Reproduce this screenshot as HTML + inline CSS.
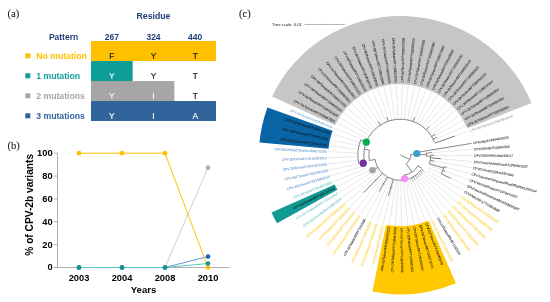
<!DOCTYPE html>
<html><head><meta charset="utf-8"><style>
html,body{margin:0;padding:0;background:#fff;width:550px;height:302px;overflow:hidden}
svg{display:block;will-change:transform}
</style></head><body>
<svg width="550" height="302" viewBox="0 0 550 302">
<rect width="550" height="302" fill="#fff"/>
<text x="7.6" y="17" font-family="Liberation Serif, serif" font-size="10.5" fill="#1a1a1a" stroke="#1a1a1a" stroke-width="0.1">(a)</text>
<text x="153.5" y="19.4" text-anchor="middle" font-family="Liberation Sans, sans-serif" font-weight="bold" font-size="8.7" fill="#213E76">Residue</text>
<text x="78.2" y="39.5" text-anchor="end" font-family="Liberation Sans, sans-serif" font-weight="bold" font-size="8.5" fill="#213E76">Pattern</text>
<text x="111.83" y="39.5" text-anchor="middle" font-family="Liberation Sans, sans-serif" font-weight="bold" font-size="8.5" fill="#213E76">267</text>
<text x="153.50" y="39.5" text-anchor="middle" font-family="Liberation Sans, sans-serif" font-weight="bold" font-size="8.5" fill="#213E76">324</text>
<text x="195.17" y="39.5" text-anchor="middle" font-family="Liberation Sans, sans-serif" font-weight="bold" font-size="8.5" fill="#213E76">440</text>
<rect x="91" y="41" width="125" height="20" fill="#FFC000"/>
<rect x="91" y="61" width="41.67" height="20" fill="#0E9E98"/>
<rect x="91" y="81" width="83.33" height="20" fill="#A6A6A6"/>
<rect x="91" y="101" width="125" height="20" fill="#30649B"/>
<text x="111.83" y="59.4" text-anchor="middle" font-family="Liberation Sans, sans-serif" font-size="8.3" fill="#222" stroke="#222" stroke-width="0.2">F</text>
<text x="153.50" y="59.4" text-anchor="middle" font-family="Liberation Sans, sans-serif" font-size="8.3" fill="#222" stroke="#222" stroke-width="0.2">Y</text>
<text x="195.17" y="59.4" text-anchor="middle" font-family="Liberation Sans, sans-serif" font-size="8.3" fill="#222" stroke="#222" stroke-width="0.2">T</text>
<text x="111.83" y="79.4" text-anchor="middle" font-family="Liberation Sans, sans-serif" font-size="8.3" fill="#f4f4f4" stroke="#f4f4f4" stroke-width="0.2">Y</text>
<text x="153.50" y="79.4" text-anchor="middle" font-family="Liberation Sans, sans-serif" font-size="8.3" fill="#222" stroke="#222" stroke-width="0.2">Y</text>
<text x="195.17" y="79.4" text-anchor="middle" font-family="Liberation Sans, sans-serif" font-size="8.3" fill="#222" stroke="#222" stroke-width="0.2">T</text>
<text x="111.83" y="99.4" text-anchor="middle" font-family="Liberation Sans, sans-serif" font-size="8.3" fill="#f4f4f4" stroke="#f4f4f4" stroke-width="0.2">Y</text>
<text x="153.50" y="99.4" text-anchor="middle" font-family="Liberation Sans, sans-serif" font-size="8.3" fill="#f4f4f4" stroke="#f4f4f4" stroke-width="0.2">I</text>
<text x="195.17" y="99.4" text-anchor="middle" font-family="Liberation Sans, sans-serif" font-size="8.3" fill="#222" stroke="#222" stroke-width="0.2">T</text>
<text x="111.83" y="119.4" text-anchor="middle" font-family="Liberation Sans, sans-serif" font-size="8.3" fill="#f4f4f4" stroke="#f4f4f4" stroke-width="0.2">Y</text>
<text x="153.50" y="119.4" text-anchor="middle" font-family="Liberation Sans, sans-serif" font-size="8.3" fill="#f4f4f4" stroke="#f4f4f4" stroke-width="0.2">I</text>
<text x="195.17" y="119.4" text-anchor="middle" font-family="Liberation Sans, sans-serif" font-size="8.3" fill="#f4f4f4" stroke="#f4f4f4" stroke-width="0.2">A</text>
<rect x="25.3" y="53.3" width="5" height="5" fill="#FFC000"/>
<text x="36.2" y="58.9" font-family="Liberation Sans, sans-serif" font-weight="bold" font-size="8.7" fill="#FFC000">No mutation</text>
<rect x="25.3" y="73.3" width="5" height="5" fill="#0E9E98"/>
<text x="36.2" y="78.9" font-family="Liberation Sans, sans-serif" font-weight="bold" font-size="8.7" fill="#0E9E98">1 mutation</text>
<rect x="25.3" y="93.3" width="5" height="5" fill="#A6A6A6"/>
<text x="36.2" y="98.9" font-family="Liberation Sans, sans-serif" font-weight="bold" font-size="8.7" fill="#A6A6A6">2 mutations</text>
<rect x="25.3" y="113.3" width="5" height="5" fill="#30649B"/>
<text x="36.2" y="118.9" font-family="Liberation Sans, sans-serif" font-weight="bold" font-size="8.7" fill="#30649B">3 mutations</text>
<text x="7.6" y="148.8" font-family="Liberation Serif, serif" font-size="10.5" fill="#1a1a1a" stroke="#1a1a1a" stroke-width="0.1">(b)</text>
<line x1="57.5" y1="153.2" x2="57.5" y2="267.5" stroke="#9a9a9a" stroke-width="0.8"/>
<line x1="54" y1="267.5" x2="229.6" y2="267.5" stroke="#9a9a9a" stroke-width="0.8"/>
<line x1="54" y1="267.50" x2="57.5" y2="267.50" stroke="#9a9a9a" stroke-width="0.8"/>
<text x="52.6" y="270.40" text-anchor="end" font-family="Liberation Sans, sans-serif" font-weight="bold" font-size="9.3" fill="#000">0</text>
<line x1="54" y1="244.64" x2="57.5" y2="244.64" stroke="#9a9a9a" stroke-width="0.8"/>
<text x="52.6" y="247.54" text-anchor="end" font-family="Liberation Sans, sans-serif" font-weight="bold" font-size="9.3" fill="#000">20</text>
<line x1="54" y1="221.78" x2="57.5" y2="221.78" stroke="#9a9a9a" stroke-width="0.8"/>
<text x="52.6" y="224.68" text-anchor="end" font-family="Liberation Sans, sans-serif" font-weight="bold" font-size="9.3" fill="#000">40</text>
<line x1="54" y1="198.92" x2="57.5" y2="198.92" stroke="#9a9a9a" stroke-width="0.8"/>
<text x="52.6" y="201.82" text-anchor="end" font-family="Liberation Sans, sans-serif" font-weight="bold" font-size="9.3" fill="#000">60</text>
<line x1="54" y1="176.06" x2="57.5" y2="176.06" stroke="#9a9a9a" stroke-width="0.8"/>
<text x="52.6" y="178.96" text-anchor="end" font-family="Liberation Sans, sans-serif" font-weight="bold" font-size="9.3" fill="#000">80</text>
<line x1="54" y1="153.20" x2="57.5" y2="153.20" stroke="#9a9a9a" stroke-width="0.8"/>
<text x="52.6" y="156.10" text-anchor="end" font-family="Liberation Sans, sans-serif" font-weight="bold" font-size="9.3" fill="#000">100</text>
<text x="79" y="281.2" text-anchor="middle" font-family="Liberation Sans, sans-serif" font-weight="bold" font-size="9.3" fill="#000">2003</text>
<text x="122" y="281.2" text-anchor="middle" font-family="Liberation Sans, sans-serif" font-weight="bold" font-size="9.3" fill="#000">2004</text>
<text x="165" y="281.2" text-anchor="middle" font-family="Liberation Sans, sans-serif" font-weight="bold" font-size="9.3" fill="#000">2008</text>
<text x="208" y="281.2" text-anchor="middle" font-family="Liberation Sans, sans-serif" font-weight="bold" font-size="9.3" fill="#000">2010</text>
<text x="143.5" y="292.8" text-anchor="middle" font-family="Liberation Sans, sans-serif" font-weight="bold" font-size="9.6" fill="#000">Years</text>
<text transform="translate(33.2 204.8) rotate(-90)" text-anchor="middle" font-family="Liberation Sans, sans-serif" font-weight="bold" font-size="10.2" fill="#000">% of CPV-2b variants</text>
<polyline points="79,267.50 122,267.50 165,267.50 208,167.72" fill="none" stroke="#CFCFCF" stroke-width="1"/>
<polyline points="79,267.50 122,267.50 165,267.50 208,256.53" fill="none" stroke="#5B9BD5" stroke-width="1"/>
<polyline points="79,153.20 122,153.20 165,153.20 208,267.50" fill="none" stroke="#FFC000" stroke-width="1"/>
<polyline points="79,267.50 122,267.50 165,267.50 208,263.50" fill="none" stroke="#5CC4BF" stroke-width="1"/>
<circle cx="79" cy="267.50" r="2.35" fill="#B0B0B0"/>
<circle cx="122" cy="267.50" r="2.35" fill="#B0B0B0"/>
<circle cx="165" cy="267.50" r="2.35" fill="#B0B0B0"/>
<circle cx="208" cy="167.72" r="2.35" fill="#B0B0B0"/>
<circle cx="79" cy="267.50" r="2.35" fill="#1565C8"/>
<circle cx="122" cy="267.50" r="2.35" fill="#1565C8"/>
<circle cx="165" cy="267.50" r="2.35" fill="#1565C8"/>
<circle cx="208" cy="256.53" r="2.35" fill="#1565C8"/>
<circle cx="79" cy="153.20" r="2.35" fill="#FFC000"/>
<circle cx="122" cy="153.20" r="2.35" fill="#FFC000"/>
<circle cx="165" cy="153.20" r="2.35" fill="#FFC000"/>
<circle cx="208" cy="267.50" r="2.35" fill="#FFC000"/>
<circle cx="79" cy="267.50" r="2.35" fill="#14968F"/>
<circle cx="122" cy="267.50" r="2.35" fill="#14968F"/>
<circle cx="165" cy="267.50" r="2.35" fill="#14968F"/>
<circle cx="208" cy="263.50" r="2.35" fill="#14968F"/>
<text x="239" y="17" font-family="Liberation Serif, serif" font-size="10.5" fill="#1a1a1a" stroke="#1a1a1a" stroke-width="0.1">(c)</text>
<text x="272" y="26" font-family="Liberation Sans, sans-serif" font-size="4.2" fill="#222">Tree scale: 0.01</text>
<line x1="305" y1="24.5" x2="344.5" y2="24.5" stroke="#888" stroke-width="0.6"/>
<line x1="305" y1="23.7" x2="305" y2="25.1" stroke="#888" stroke-width="0.4"/>
<line x1="325" y1="23.7" x2="325" y2="25.1" stroke="#888" stroke-width="0.4"/>
<line x1="345" y1="23.7" x2="345" y2="25.1" stroke="#888" stroke-width="0.4"/>
<path d="M272.11,96.41 A141.43,139.20 0 0 1 531.51,103.03 L467.25,128.54 A72.14,71.00 0 0 0 334.94,125.17 Z" fill="#C6C6C6"/>
<path d="M259.51,142.44 A141.43,139.20 0 0 1 267.46,107.47 L332.57,130.81 A72.14,71.00 0 0 0 328.51,148.64 Z" fill="#0864A4"/>
<path d="M277.00,223.20 A141.43,139.20 0 0 1 271.51,212.51 L334.64,184.38 A72.14,71.00 0 0 0 337.44,189.83 Z" fill="#0F9A94"/>
<path d="M455.82,283.15 A141.43,139.20 0 0 1 372.36,291.55 L386.07,224.70 A72.14,71.00 0 0 0 428.64,220.41 Z" fill="#FFC800"/>
<line x1="471.50" y1="143.38" x2="472.00" y2="143.30" stroke="#d2d2d2" stroke-width="0.5"/>
<line x1="430.73" y1="152.71" x2="472.76" y2="149.40" stroke="#d2d2d2" stroke-width="0.5"/>
<line x1="430.83" y1="155.29" x2="472.99" y2="155.55" stroke="#d2d2d2" stroke-width="0.5"/>
<line x1="430.70" y1="157.87" x2="472.68" y2="161.69" stroke="#d2d2d2" stroke-width="0.5"/>
<line x1="430.35" y1="160.42" x2="471.84" y2="167.78" stroke="#d2d2d2" stroke-width="0.5"/>
<line x1="429.77" y1="162.94" x2="470.47" y2="173.78" stroke="#d2d2d2" stroke-width="0.5"/>
<line x1="428.98" y1="165.40" x2="468.58" y2="179.65" stroke="#d2d2d2" stroke-width="0.5"/>
<line x1="427.97" y1="167.78" x2="466.18" y2="185.33" stroke="#d2d2d2" stroke-width="0.5"/>
<line x1="426.76" y1="170.07" x2="463.30" y2="190.78" stroke="#d2d2d2" stroke-width="0.5"/>
<line x1="421.44" y1="169.56" x2="459.95" y2="195.97" stroke="#d2d2d2" stroke-width="0.5"/>
<line x1="420.10" y1="171.29" x2="456.16" y2="200.86" stroke="#d2d2d2" stroke-width="0.5"/>
<line x1="418.61" y1="172.90" x2="451.96" y2="205.42" stroke="#d2d2d2" stroke-width="0.5"/>
<line x1="416.99" y1="174.38" x2="447.38" y2="209.59" stroke="#d2d2d2" stroke-width="0.5"/>
<line x1="415.25" y1="175.72" x2="442.45" y2="213.37" stroke="#d2d2d2" stroke-width="0.5"/>
<line x1="413.39" y1="176.90" x2="437.20" y2="216.72" stroke="#d2d2d2" stroke-width="0.5"/>
<line x1="411.44" y1="177.92" x2="431.69" y2="219.60" stroke="#d2d2d2" stroke-width="0.5"/>
<line x1="409.41" y1="178.78" x2="425.94" y2="222.02" stroke="#d2d2d2" stroke-width="0.5"/>
<line x1="407.30" y1="179.46" x2="420.00" y2="223.93" stroke="#d2d2d2" stroke-width="0.5"/>
<line x1="405.15" y1="179.95" x2="413.92" y2="225.34" stroke="#d2d2d2" stroke-width="0.5"/>
<line x1="402.96" y1="180.27" x2="407.74" y2="226.23" stroke="#d2d2d2" stroke-width="0.5"/>
<line x1="400.76" y1="180.40" x2="401.50" y2="226.59" stroke="#d2d2d2" stroke-width="0.5"/>
<line x1="398.55" y1="180.34" x2="395.26" y2="226.42" stroke="#d2d2d2" stroke-width="0.5"/>
<line x1="396.35" y1="180.09" x2="389.05" y2="225.73" stroke="#d2d2d2" stroke-width="0.5"/>
<line x1="394.18" y1="179.66" x2="382.92" y2="224.51" stroke="#d2d2d2" stroke-width="0.5"/>
<line x1="392.06" y1="179.05" x2="376.93" y2="222.78" stroke="#d2d2d2" stroke-width="0.5"/>
<line x1="390.00" y1="178.26" x2="371.11" y2="220.55" stroke="#d2d2d2" stroke-width="0.5"/>
<line x1="388.02" y1="177.30" x2="365.50" y2="217.83" stroke="#d2d2d2" stroke-width="0.5"/>
<line x1="386.13" y1="176.17" x2="360.15" y2="214.65" stroke="#d2d2d2" stroke-width="0.5"/>
<line x1="384.34" y1="174.89" x2="355.10" y2="211.03" stroke="#d2d2d2" stroke-width="0.5"/>
<line x1="382.67" y1="173.46" x2="350.38" y2="207.00" stroke="#d2d2d2" stroke-width="0.5"/>
<line x1="381.13" y1="171.90" x2="346.04" y2="202.58" stroke="#d2d2d2" stroke-width="0.5"/>
<line x1="379.74" y1="170.21" x2="342.09" y2="197.81" stroke="#d2d2d2" stroke-width="0.5"/>
<line x1="378.49" y1="168.41" x2="338.58" y2="192.73" stroke="#d2d2d2" stroke-width="0.5"/>
<line x1="377.41" y1="166.52" x2="335.52" y2="187.36" stroke="#d2d2d2" stroke-width="0.5"/>
<line x1="366.41" y1="168.52" x2="332.95" y2="181.76" stroke="#d2d2d2" stroke-width="0.5"/>
<line x1="365.37" y1="165.60" x2="330.87" y2="175.96" stroke="#d2d2d2" stroke-width="0.5"/>
<line x1="358.81" y1="163.82" x2="329.30" y2="170.01" stroke="#d2d2d2" stroke-width="0.5"/>
<line x1="358.21" y1="160.27" x2="328.26" y2="163.94" stroke="#d2d2d2" stroke-width="0.5"/>
<line x1="357.91" y1="156.69" x2="327.76" y2="157.81" stroke="#d2d2d2" stroke-width="0.5"/>
<line x1="357.93" y1="153.09" x2="327.79" y2="151.67" stroke="#d2d2d2" stroke-width="0.5"/>
<line x1="358.26" y1="149.51" x2="328.36" y2="145.54" stroke="#d2d2d2" stroke-width="0.5"/>
<line x1="358.91" y1="145.97" x2="329.46" y2="139.49" stroke="#d2d2d2" stroke-width="0.5"/>
<line x1="359.86" y1="142.50" x2="331.08" y2="133.55" stroke="#d2d2d2" stroke-width="0.5"/>
<line x1="366.55" y1="141.34" x2="333.22" y2="127.77" stroke="#d2d2d2" stroke-width="0.5"/>
<line x1="367.88" y1="138.53" x2="335.86" y2="122.19" stroke="#d2d2d2" stroke-width="0.5"/>
<line x1="369.44" y1="135.85" x2="338.97" y2="116.86" stroke="#d2d2d2" stroke-width="0.5"/>
<line x1="371.24" y1="133.30" x2="342.53" y2="111.81" stroke="#d2d2d2" stroke-width="0.5"/>
<line x1="373.25" y1="130.92" x2="346.53" y2="107.08" stroke="#d2d2d2" stroke-width="0.5"/>
<line x1="375.46" y1="128.72" x2="350.92" y2="102.71" stroke="#d2d2d2" stroke-width="0.5"/>
<line x1="377.86" y1="126.71" x2="355.68" y2="98.72" stroke="#d2d2d2" stroke-width="0.5"/>
<line x1="380.42" y1="124.92" x2="360.76" y2="95.15" stroke="#d2d2d2" stroke-width="0.5"/>
<line x1="383.13" y1="123.34" x2="366.14" y2="92.02" stroke="#d2d2d2" stroke-width="0.5"/>
<line x1="385.96" y1="122.00" x2="371.78" y2="89.36" stroke="#d2d2d2" stroke-width="0.5"/>
<line x1="388.91" y1="120.91" x2="377.62" y2="87.19" stroke="#d2d2d2" stroke-width="0.5"/>
<line x1="391.93" y1="120.07" x2="383.63" y2="85.52" stroke="#d2d2d2" stroke-width="0.5"/>
<line x1="395.02" y1="119.48" x2="389.77" y2="84.36" stroke="#d2d2d2" stroke-width="0.5"/>
<line x1="398.15" y1="119.17" x2="395.99" y2="83.73" stroke="#d2d2d2" stroke-width="0.5"/>
<line x1="401.30" y1="119.11" x2="402.23" y2="83.62" stroke="#d2d2d2" stroke-width="0.5"/>
<line x1="404.44" y1="119.33" x2="408.47" y2="84.05" stroke="#d2d2d2" stroke-width="0.5"/>
<line x1="407.55" y1="119.80" x2="414.64" y2="85.00" stroke="#d2d2d2" stroke-width="0.5"/>
<line x1="410.60" y1="120.54" x2="420.71" y2="86.47" stroke="#d2d2d2" stroke-width="0.5"/>
<line x1="413.58" y1="121.54" x2="426.62" y2="88.44" stroke="#d2d2d2" stroke-width="0.5"/>
<line x1="416.46" y1="122.78" x2="432.35" y2="90.91" stroke="#d2d2d2" stroke-width="0.5"/>
<line x1="419.22" y1="124.26" x2="437.83" y2="93.85" stroke="#d2d2d2" stroke-width="0.5"/>
<line x1="421.85" y1="125.97" x2="443.04" y2="97.25" stroke="#d2d2d2" stroke-width="0.5"/>
<line x1="424.31" y1="127.90" x2="447.93" y2="101.07" stroke="#d2d2d2" stroke-width="0.5"/>
<line x1="426.59" y1="130.03" x2="452.48" y2="105.30" stroke="#d2d2d2" stroke-width="0.5"/>
<line x1="428.69" y1="132.34" x2="456.63" y2="109.89" stroke="#d2d2d2" stroke-width="0.5"/>
<line x1="430.57" y1="134.82" x2="460.37" y2="114.82" stroke="#d2d2d2" stroke-width="0.5"/>
<line x1="432.23" y1="137.45" x2="463.66" y2="120.04" stroke="#d2d2d2" stroke-width="0.5"/>
<line x1="433.65" y1="140.21" x2="466.49" y2="125.53" stroke="#d2d2d2" stroke-width="0.5"/>
<line x1="434.83" y1="143.08" x2="468.83" y2="131.23" stroke="#d2d2d2" stroke-width="0.5"/>
<path d="M364.59,162.65 A36.58,36.00 0 0 1 434.40,141.96" fill="none" stroke="#555" stroke-width="0.7"/>
<path d="M358.76,163.58 A42.47,41.80 0 0 1 360.70,140.12" fill="none" stroke="#555" stroke-width="0.7"/>
<line x1="366.20" y1="142.20" x2="360.70" y2="140.12" stroke="#555" stroke-width="0.7"/>
<path d="M369.33,160.48 A31.50,31.00 0 0 1 369.29,149.98" fill="none" stroke="#555" stroke-width="0.7"/>
<line x1="369.29" y1="149.98" x2="364.28" y2="149.16" stroke="#555" stroke-width="0.7"/>
<line x1="375.04" y1="159.49" x2="369.33" y2="160.48" stroke="#555" stroke-width="0.7"/>
<path d="M421.41,169.61 A25.70,25.30 0 0 1 375.04,159.49" fill="none" stroke="#555" stroke-width="0.7"/>
<line x1="377.91" y1="167.44" x2="372.32" y2="170.52" stroke="#555" stroke-width="0.7"/>
<path d="M418.30,165.30 A20.73,20.40 0 0 1 403.95,175.19" fill="none" stroke="#555" stroke-width="0.7"/>
<line x1="403.95" y1="175.19" x2="404.81" y2="180.02" stroke="#555" stroke-width="0.7"/>
<line x1="417.93" y1="165.91" x2="422.15" y2="168.51" stroke="#555" stroke-width="0.7"/>
<path d="M410.79,154.38 A10.46,10.30 0 0 1 406.20,163.64" fill="none" stroke="#555" stroke-width="0.7"/>
<line x1="400.35" y1="155.10" x2="409.83" y2="159.45" stroke="#555" stroke-width="0.7"/>
<line x1="406.20" y1="163.64" x2="411.94" y2="172.01" stroke="#555" stroke-width="0.7"/>
<line x1="410.79" y1="154.38" x2="417.38" y2="153.93" stroke="#555" stroke-width="0.7"/>
<line x1="380.38" y1="124.94" x2="377.99" y2="121.34" stroke="#555" stroke-width="0.7"/>
<line x1="388.20" y1="121.14" x2="386.75" y2="117.09" stroke="#555" stroke-width="0.7"/>
<line x1="412.98" y1="121.31" x2="414.49" y2="117.28" stroke="#555" stroke-width="0.7"/>
<line x1="426.12" y1="129.56" x2="429.20" y2="126.50" stroke="#555" stroke-width="0.7"/>
<line x1="431.67" y1="136.50" x2="435.41" y2="134.28" stroke="#555" stroke-width="0.7"/>
<line x1="433.11" y1="139.09" x2="437.02" y2="137.18" stroke="#555" stroke-width="0.7"/>
<line x1="434.83" y1="143.08" x2="454.94" y2="136.07" stroke="#555" stroke-width="0.7"/>
<path d="M417.18,152.33 A17.07,16.80 0 0 1 417.42,154.81" fill="none" stroke="#555" stroke-width="0.7"/>
<line x1="417.18" y1="152.33" x2="471.50" y2="143.38" stroke="#555" stroke-width="0.7"/>
<line x1="417.42" y1="154.81" x2="426.46" y2="154.65" stroke="#555" stroke-width="0.7"/>
<path d="M426.38,153.05 A26.11,25.70 0 0 1 426.44,156.22" fill="none" stroke="#555" stroke-width="0.7"/>
<line x1="426.38" y1="153.05" x2="431.75" y2="152.63" stroke="#555" stroke-width="0.7"/>
<line x1="426.44" y1="156.22" x2="430.60" y2="156.40" stroke="#555" stroke-width="0.7"/>
<path d="M430.63,155.29 A30.28,29.80 0 0 1 429.30,163.81" fill="none" stroke="#555" stroke-width="0.7"/>
<line x1="430.63" y1="155.29" x2="433.88" y2="155.31" stroke="#555" stroke-width="0.7"/>
<line x1="430.50" y1="157.85" x2="440.82" y2="158.79" stroke="#555" stroke-width="0.7"/>
<line x1="430.15" y1="160.39" x2="434.35" y2="161.13" stroke="#555" stroke-width="0.7"/>
<line x1="429.30" y1="163.81" x2="443.59" y2="168.11" stroke="#555" stroke-width="0.7"/>
<path d="M443.99,166.73 A45.21,44.50 0 0 1 441.32,173.91" fill="none" stroke="#555" stroke-width="0.7"/>
<line x1="443.99" y1="166.73" x2="446.44" y2="167.38" stroke="#555" stroke-width="0.7"/>
<line x1="442.81" y1="170.38" x2="445.20" y2="171.23" stroke="#555" stroke-width="0.7"/>
<line x1="441.32" y1="173.91" x2="450.53" y2="178.14" stroke="#555" stroke-width="0.7"/>
<line x1="421.44" y1="169.56" x2="424.36" y2="171.56" stroke="#777" stroke-width="0.6"/>
<line x1="420.10" y1="171.29" x2="422.83" y2="173.53" stroke="#777" stroke-width="0.6"/>
<line x1="418.61" y1="172.90" x2="421.14" y2="175.37" stroke="#777" stroke-width="0.6"/>
<line x1="416.99" y1="174.38" x2="419.29" y2="177.05" stroke="#777" stroke-width="0.6"/>
<line x1="415.25" y1="175.72" x2="417.31" y2="178.57" stroke="#777" stroke-width="0.6"/>
<line x1="413.39" y1="176.90" x2="415.19" y2="179.92" stroke="#777" stroke-width="0.6"/>
<line x1="411.44" y1="177.92" x2="412.97" y2="181.08" stroke="#777" stroke-width="0.6"/>
<line x1="382.49" y1="173.30" x2="363.65" y2="192.51" stroke="#555" stroke-width="0.7"/>
<path d="M376.37,180.95 A35.56,35.00 0 0 1 374.94,179.59" fill="none" stroke="#555" stroke-width="0.7"/>
<line x1="387.50" y1="177.01" x2="379.01" y2="191.47" stroke="#555" stroke-width="0.7"/>
<path d="M384.40,184.13 A33.53,33.00 0 0 1 382.78,183.21" fill="none" stroke="#555" stroke-width="0.7"/>
<line x1="393.26" y1="179.42" x2="388.45" y2="195.95" stroke="#555" stroke-width="0.7"/>
<path d="M391.76,188.03 A34.54,34.00 0 0 1 389.90,187.51" fill="none" stroke="#555" stroke-width="0.7"/>
<circle cx="366.3" cy="142.2" r="3.6" fill="#00B050"/>
<circle cx="363.2" cy="163.2" r="3.7" fill="#7030A0"/>
<circle cx="372.5" cy="170.3" r="3.3" fill="#A5A5A5"/>
<circle cx="404.6" cy="178.4" r="3.5" fill="#F78DF5"/>
<circle cx="416.8" cy="153.5" r="3.6" fill="#3AA2C6"/>
<text transform="translate(473.10 143.12) rotate(-9.35)" dy="1.2" font-family="Liberation Sans, sans-serif" font-size="3.3" fill="#151515" stroke="#151515" stroke-width="0.04" textLength="36.1" lengthAdjust="spacingAndGlyphs">CPV/Italy/KX434460/2015</text>
<text transform="translate(473.88 149.31) rotate(-4.50)" dy="1.2" font-family="Liberation Sans, sans-serif" font-size="3.3" fill="#151515" stroke="#151515" stroke-width="0.04" textLength="36.1" lengthAdjust="spacingAndGlyphs">CPV/USA/MH711894/2016</text>
<text transform="translate(474.11 155.56) rotate(0.35)" dy="1.2" font-family="Liberation Sans, sans-serif" font-size="3.3" fill="#151515" stroke="#151515" stroke-width="0.04" textLength="38.9" lengthAdjust="spacingAndGlyphs">CPV/USA/MH545963/2017</text>
<text transform="translate(473.80 161.79) rotate(5.21)" dy="1.2" font-family="Liberation Sans, sans-serif" font-size="3.3" fill="#151515" stroke="#151515" stroke-width="0.04" textLength="54.0" lengthAdjust="spacingAndGlyphs">CPV/Vaccine/Nobivac/FJ197846/2007</text>
<text transform="translate(472.94 167.98) rotate(10.06)" dy="1.2" font-family="Liberation Sans, sans-serif" font-size="3.3" fill="#151515" stroke="#151515" stroke-width="0.04" textLength="41.2" lengthAdjust="spacingAndGlyphs">CPV/China/DQ354165/1983</text>
<text transform="translate(471.55 174.07) rotate(14.92)" dy="1.2" font-family="Liberation Sans, sans-serif" font-size="3.3" fill="#151515" stroke="#151515" stroke-width="0.04" textLength="67.4" lengthAdjust="spacingAndGlyphs">CPV/Vaccine/Vanguard/Plus5/EU659116/2004</text>
<text transform="translate(469.63 180.02) rotate(19.79)" dy="1.2" font-family="Liberation Sans, sans-serif" font-size="3.3" fill="#151515" stroke="#151515" stroke-width="0.04" textLength="51.0" lengthAdjust="spacingAndGlyphs">CPV/Vaccine/Puppy/FJ197847/2007</text>
<text transform="translate(467.20 185.79) rotate(24.66)" dy="1.2" font-family="Liberation Sans, sans-serif" font-size="3.3" fill="#151515" stroke="#151515" stroke-width="0.04" textLength="57.4" lengthAdjust="spacingAndGlyphs">CPV/Vaccine/Duramune/EU659118/2007</text>
<text transform="translate(464.27 191.33) rotate(29.54)" dy="1.2" font-family="Liberation Sans, sans-serif" font-size="3.3" fill="#151515" stroke="#151515" stroke-width="0.04" textLength="40.4" lengthAdjust="spacingAndGlyphs">CPV/Italy/MF177230/2009</text>
<text transform="translate(460.87 196.60) rotate(34.44)" dy="1.2" font-family="Liberation Sans, sans-serif" font-size="3.3" fill="#FFDE7A" stroke="#FFDE7A" stroke-width="0.22" textLength="45.4" lengthAdjust="spacingAndGlyphs">CPV-2b/Taiwan/KP715819/2003</text>
<text transform="translate(457.02 201.57) rotate(39.35)" dy="1.2" font-family="Liberation Sans, sans-serif" font-size="3.3" fill="#FFDE7A" stroke="#FFDE7A" stroke-width="0.22" textLength="45.4" lengthAdjust="spacingAndGlyphs">CPV-2b/Taiwan/KP715820/2003</text>
<text transform="translate(452.76 206.19) rotate(44.27)" dy="1.2" font-family="Liberation Sans, sans-serif" font-size="3.3" fill="#FFDE7A" stroke="#FFDE7A" stroke-width="0.22" textLength="45.4" lengthAdjust="spacingAndGlyphs">CPV-2b/Taiwan/KP715821/2003</text>
<text transform="translate(448.10 210.43) rotate(49.21)" dy="1.2" font-family="Liberation Sans, sans-serif" font-size="3.3" fill="#FFDE7A" stroke="#FFDE7A" stroke-width="0.22" textLength="45.4" lengthAdjust="spacingAndGlyphs">CPV-2b/Taiwan/KP715822/2003</text>
<text transform="translate(443.09 214.27) rotate(54.15)" dy="1.2" font-family="Liberation Sans, sans-serif" font-size="3.3" fill="#FFDE7A" stroke="#FFDE7A" stroke-width="0.22" textLength="45.4" lengthAdjust="spacingAndGlyphs">CPV-2b/Taiwan/KP715823/2003</text>
<text transform="translate(437.77 217.66) rotate(59.11)" dy="1.2" font-family="Liberation Sans, sans-serif" font-size="3.3" fill="#151515" stroke="#151515" stroke-width="0.04" textLength="43.1" lengthAdjust="spacingAndGlyphs">CPV-2b/Taiwan/KM457118/2004</text>
<text transform="translate(432.17 220.60) rotate(64.09)" dy="1.2" font-family="Liberation Sans, sans-serif" font-size="3.3" fill="#FFDE7A" stroke="#FFDE7A" stroke-width="0.22" textLength="45.4" lengthAdjust="spacingAndGlyphs">CPV-2b/Taiwan/KP715825/2003</text>
<text transform="translate(426.33 223.05) rotate(69.07)" dy="1.2" font-family="Liberation Sans, sans-serif" font-size="3.3" fill="#151515" stroke="#151515" stroke-width="0.04" textLength="44.9" lengthAdjust="spacingAndGlyphs">CPV-2b/Taiwan/KP715836/2003</text>
<text transform="translate(420.31 224.99) rotate(74.06)" dy="1.2" font-family="Liberation Sans, sans-serif" font-size="3.3" fill="#151515" stroke="#151515" stroke-width="0.04" textLength="44.9" lengthAdjust="spacingAndGlyphs">CPV-2b/Taiwan/KP715837/2003</text>
<text transform="translate(414.13 226.42) rotate(79.06)" dy="1.2" font-family="Liberation Sans, sans-serif" font-size="3.3" fill="#151515" stroke="#151515" stroke-width="0.04" textLength="44.9" lengthAdjust="spacingAndGlyphs">CPV-2b/Taiwan/KP715838/2003</text>
<text transform="translate(407.85 227.32) rotate(84.07)" dy="1.2" font-family="Liberation Sans, sans-serif" font-size="3.3" fill="#151515" stroke="#151515" stroke-width="0.04" textLength="44.9" lengthAdjust="spacingAndGlyphs">CPV-2b/Taiwan/KP715839/2003</text>
<text transform="translate(401.52 227.69) rotate(89.08)" dy="1.2" font-family="Liberation Sans, sans-serif" font-size="3.3" fill="#151515" stroke="#151515" stroke-width="0.04" textLength="44.9" lengthAdjust="spacingAndGlyphs">CPV-2b/Taiwan/KP715840/2003</text>
<text transform="translate(395.18 227.52) rotate(274.09)" dy="1.2" x="-44.9" font-family="Liberation Sans, sans-serif" font-size="3.3" fill="#151515" stroke="#151515" stroke-width="0.04" textLength="44.9" lengthAdjust="spacingAndGlyphs">CPV-2b/Taiwan/KP715841/2003</text>
<text transform="translate(388.87 226.82) rotate(279.09)" dy="1.2" x="-44.9" font-family="Liberation Sans, sans-serif" font-size="3.3" fill="#151515" stroke="#151515" stroke-width="0.04" textLength="44.9" lengthAdjust="spacingAndGlyphs">CPV-2b/Taiwan/KP715842/2003</text>
<text transform="translate(382.66 225.58) rotate(284.09)" dy="1.2" x="-39.4" font-family="Liberation Sans, sans-serif" font-size="3.3" fill="#FFDE7A" stroke="#FFDE7A" stroke-width="0.22" textLength="39.4" lengthAdjust="spacingAndGlyphs">CPV-2b/Taiwan/KP715833/2003</text>
<text transform="translate(376.57 223.82) rotate(289.09)" dy="1.2" x="-45.4" font-family="Liberation Sans, sans-serif" font-size="3.3" fill="#FFDE7A" stroke="#FFDE7A" stroke-width="0.22" textLength="45.4" lengthAdjust="spacingAndGlyphs">CPV-2b/Taiwan/KP715834/2003</text>
<text transform="translate(370.66 221.56) rotate(294.08)" dy="1.2" x="-45.4" font-family="Liberation Sans, sans-serif" font-size="3.3" fill="#FFDE7A" stroke="#FFDE7A" stroke-width="0.22" textLength="45.4" lengthAdjust="spacingAndGlyphs">CPV-2b/Taiwan/KP715835/2003</text>
<text transform="translate(364.96 218.80) rotate(299.05)" dy="1.2" x="-42.1" font-family="Liberation Sans, sans-serif" font-size="3.3" fill="#151515" stroke="#151515" stroke-width="0.04" textLength="42.1" lengthAdjust="spacingAndGlyphs">CPV-2b/Taiwan/KM457121/2005</text>
<text transform="translate(359.53 215.57) rotate(304.02)" dy="1.2" x="-46.9" font-family="Liberation Sans, sans-serif" font-size="3.3" fill="#FFDE7A" stroke="#FFDE7A" stroke-width="0.22" textLength="46.9" lengthAdjust="spacingAndGlyphs">CPV-2b/Taiwan/KP715837/2003</text>
<text transform="translate(354.40 211.90) rotate(308.97)" dy="1.2" x="-42.8" font-family="Liberation Sans, sans-serif" font-size="3.3" fill="#FFDE7A" stroke="#FFDE7A" stroke-width="0.22" textLength="42.8" lengthAdjust="spacingAndGlyphs">CPV-2b/Taiwan/KP715838/2003</text>
<text transform="translate(349.62 207.80) rotate(313.91)" dy="1.2" x="-43.8" font-family="Liberation Sans, sans-serif" font-size="3.3" fill="#FFDE7A" stroke="#FFDE7A" stroke-width="0.22" textLength="43.8" lengthAdjust="spacingAndGlyphs">CPV-2b/Taiwan/KP715839/2003</text>
<text transform="translate(345.20 203.31) rotate(318.84)" dy="1.2" x="-51.4" font-family="Liberation Sans, sans-serif" font-size="3.3" fill="#FFDE7A" stroke="#FFDE7A" stroke-width="0.22" textLength="51.4" lengthAdjust="spacingAndGlyphs">CPV-2b/Taiwan/KP715840/2003</text>
<text transform="translate(341.20 198.47) rotate(323.75)" dy="1.2" x="-46.9" font-family="Liberation Sans, sans-serif" font-size="3.3" fill="#40B3AC" textLength="46.9" lengthAdjust="spacingAndGlyphs">CPV-2b/USA/MG013488/2016</text>
<text transform="translate(337.63 193.31) rotate(328.65)" dy="1.2" x="-48.4" font-family="Liberation Sans, sans-serif" font-size="3.3" fill="#40B3AC" textLength="48.4" lengthAdjust="spacingAndGlyphs">CPV-2b/Thailand/MF177291/2016</text>
<text transform="translate(334.53 187.86) rotate(333.54)" dy="1.2" x="-46.4" font-family="Liberation Sans, sans-serif" font-size="3.3" fill="#151515" stroke="#151515" stroke-width="0.04" textLength="46.4" lengthAdjust="spacingAndGlyphs">CPV-2b/Taiwan/KP715871/2010</text>
<text transform="translate(331.91 182.17) rotate(338.42)" dy="1.2" x="-41.4" font-family="Liberation Sans, sans-serif" font-size="3.3" fill="#40B3AC" textLength="41.4" lengthAdjust="spacingAndGlyphs">CPV-2b/Italy/KX434462/2016</text>
<text transform="translate(329.80 176.28) rotate(343.29)" dy="1.2" x="-44.6" font-family="Liberation Sans, sans-serif" font-size="3.3" fill="#2E75B6" textLength="44.6" lengthAdjust="spacingAndGlyphs">CPV-2b/China/KY921535/2015</text>
<text transform="translate(328.21 170.24) rotate(348.15)" dy="1.2" x="-44.6" font-family="Liberation Sans, sans-serif" font-size="3.3" fill="#2E75B6" textLength="44.6" lengthAdjust="spacingAndGlyphs">CPV-2b/China/KY921536/2015</text>
<text transform="translate(327.15 164.08) rotate(353.01)" dy="1.2" x="-44.6" font-family="Liberation Sans, sans-serif" font-size="3.3" fill="#2E75B6" textLength="44.6" lengthAdjust="spacingAndGlyphs">CPV-2b/China/KY921537/2015</text>
<text transform="translate(326.64 157.86) rotate(357.86)" dy="1.2" x="-44.6" font-family="Liberation Sans, sans-serif" font-size="3.3" fill="#2E75B6" textLength="44.6" lengthAdjust="spacingAndGlyphs">CPV-2b/China/KY921538/2015</text>
<text transform="translate(326.67 151.61) rotate(2.71)" dy="1.2" x="-51.8" font-family="Liberation Sans, sans-serif" font-size="3.3" fill="#2E75B6" textLength="51.8" lengthAdjust="spacingAndGlyphs">CPV/2b/SWINE/China/KX259817/2016</text>
<text transform="translate(327.25 145.39) rotate(7.56)" dy="1.2" x="-47.1" font-family="Liberation Sans, sans-serif" font-size="3.3" fill="#151515" stroke="#151515" stroke-width="0.04" textLength="47.1" lengthAdjust="spacingAndGlyphs">CPV-2b/Taiwan/KP715940/2010</text>
<text transform="translate(328.37 139.25) rotate(12.42)" dy="1.2" x="-47.1" font-family="Liberation Sans, sans-serif" font-size="3.3" fill="#151515" stroke="#151515" stroke-width="0.04" textLength="47.1" lengthAdjust="spacingAndGlyphs">CPV-2b/Taiwan/KP715941/2010</text>
<text transform="translate(330.02 133.22) rotate(17.28)" dy="1.2" x="-47.1" font-family="Liberation Sans, sans-serif" font-size="3.3" fill="#151515" stroke="#151515" stroke-width="0.04" textLength="47.1" lengthAdjust="spacingAndGlyphs">CPV-2b/Taiwan/KP715942/2010</text>
<text transform="translate(332.19 127.35) rotate(22.15)" dy="1.2" x="-45.1" font-family="Liberation Sans, sans-serif" font-size="3.3" fill="#4A94D4" textLength="45.1" lengthAdjust="spacingAndGlyphs">CPV-2b/Taiwan/KX434455/2016</text>
<text transform="translate(334.86 121.69) rotate(27.03)" dy="1.2" x="-46.2" font-family="Liberation Sans, sans-serif" font-size="3.3" fill="#151515" stroke="#151515" stroke-width="0.04" textLength="46.2" lengthAdjust="spacingAndGlyphs">CPV-2b/Taiwan/KP715844/2003</text>
<text transform="translate(338.02 116.27) rotate(31.92)" dy="1.2" x="-46.2" font-family="Liberation Sans, sans-serif" font-size="3.3" fill="#151515" stroke="#151515" stroke-width="0.04" textLength="46.2" lengthAdjust="spacingAndGlyphs">CPV-2b/Taiwan/KP715845/2003</text>
<text transform="translate(341.64 111.15) rotate(36.82)" dy="1.2" x="-46.2" font-family="Liberation Sans, sans-serif" font-size="3.3" fill="#151515" stroke="#151515" stroke-width="0.04" textLength="46.2" lengthAdjust="spacingAndGlyphs">CPV-2b/Taiwan/KP715846/2003</text>
<text transform="translate(345.70 106.34) rotate(41.74)" dy="1.2" x="-46.2" font-family="Liberation Sans, sans-serif" font-size="3.3" fill="#151515" stroke="#151515" stroke-width="0.04" textLength="46.2" lengthAdjust="spacingAndGlyphs">CPV-2b/Taiwan/KP715847/2003</text>
<text transform="translate(350.16 101.90) rotate(46.67)" dy="1.2" x="-46.2" font-family="Liberation Sans, sans-serif" font-size="3.3" fill="#151515" stroke="#151515" stroke-width="0.04" textLength="46.2" lengthAdjust="spacingAndGlyphs">CPV-2b/Taiwan/KP715848/2003</text>
<text transform="translate(354.99 97.85) rotate(51.61)" dy="1.2" x="-45.4" font-family="Liberation Sans, sans-serif" font-size="3.3" fill="#151515" stroke="#151515" stroke-width="0.04" textLength="45.4" lengthAdjust="spacingAndGlyphs">CPV-2b/Taiwan/KP715849/2003</text>
<text transform="translate(360.15 94.23) rotate(56.56)" dy="1.2" x="-45.4" font-family="Liberation Sans, sans-serif" font-size="3.3" fill="#151515" stroke="#151515" stroke-width="0.04" textLength="45.4" lengthAdjust="spacingAndGlyphs">CPV-2b/Taiwan/KP715850/2003</text>
<text transform="translate(365.62 91.05) rotate(61.53)" dy="1.2" x="-45.4" font-family="Liberation Sans, sans-serif" font-size="3.3" fill="#151515" stroke="#151515" stroke-width="0.04" textLength="45.4" lengthAdjust="spacingAndGlyphs">CPV-2b/Taiwan/KP715851/2003</text>
<text transform="translate(371.34 88.35) rotate(66.51)" dy="1.2" x="-45.4" font-family="Liberation Sans, sans-serif" font-size="3.3" fill="#151515" stroke="#151515" stroke-width="0.04" textLength="45.4" lengthAdjust="spacingAndGlyphs">CPV-2b/Taiwan/KP715852/2003</text>
<text transform="translate(377.27 86.14) rotate(71.50)" dy="1.2" x="-44.9" font-family="Liberation Sans, sans-serif" font-size="3.3" fill="#151515" stroke="#151515" stroke-width="0.04" textLength="44.9" lengthAdjust="spacingAndGlyphs">CPV-2b/Taiwan/KP715853/2003</text>
<text transform="translate(383.38 84.45) rotate(76.49)" dy="1.2" x="-44.9" font-family="Liberation Sans, sans-serif" font-size="3.3" fill="#151515" stroke="#151515" stroke-width="0.04" textLength="44.9" lengthAdjust="spacingAndGlyphs">CPV-2b/Taiwan/KP715854/2003</text>
<text transform="translate(389.61 83.27) rotate(81.49)" dy="1.2" x="-44.9" font-family="Liberation Sans, sans-serif" font-size="3.3" fill="#151515" stroke="#151515" stroke-width="0.04" textLength="44.9" lengthAdjust="spacingAndGlyphs">CPV-2b/Taiwan/KP715855/2003</text>
<text transform="translate(395.92 82.63) rotate(86.50)" dy="1.2" x="-44.9" font-family="Liberation Sans, sans-serif" font-size="3.3" fill="#151515" stroke="#151515" stroke-width="0.04" textLength="44.9" lengthAdjust="spacingAndGlyphs">CPV-2b/Taiwan/KP715856/2003</text>
<text transform="translate(402.26 82.52) rotate(-88.49)" dy="1.2" font-family="Liberation Sans, sans-serif" font-size="3.3" fill="#151515" stroke="#151515" stroke-width="0.04" textLength="44.9" lengthAdjust="spacingAndGlyphs">CPV-2b/Taiwan/KP715857/2003</text>
<text transform="translate(408.59 82.95) rotate(-83.48)" dy="1.2" font-family="Liberation Sans, sans-serif" font-size="3.3" fill="#151515" stroke="#151515" stroke-width="0.04" textLength="44.9" lengthAdjust="spacingAndGlyphs">CPV-2b/Taiwan/KP715858/2003</text>
<text transform="translate(414.86 83.92) rotate(-78.48)" dy="1.2" font-family="Liberation Sans, sans-serif" font-size="3.3" fill="#151515" stroke="#151515" stroke-width="0.04" textLength="44.9" lengthAdjust="spacingAndGlyphs">CPV-2b/Taiwan/KP715859/2003</text>
<text transform="translate(421.02 85.41) rotate(-73.48)" dy="1.2" font-family="Liberation Sans, sans-serif" font-size="3.3" fill="#151515" stroke="#151515" stroke-width="0.04" textLength="44.9" lengthAdjust="spacingAndGlyphs">CPV-2b/Taiwan/KP715860/2003</text>
<text transform="translate(427.03 87.42) rotate(-68.49)" dy="1.2" font-family="Liberation Sans, sans-serif" font-size="3.3" fill="#151515" stroke="#151515" stroke-width="0.04" textLength="44.9" lengthAdjust="spacingAndGlyphs">CPV-2b/Taiwan/KP715861/2003</text>
<text transform="translate(432.84 89.92) rotate(-63.50)" dy="1.2" font-family="Liberation Sans, sans-serif" font-size="3.3" fill="#151515" stroke="#151515" stroke-width="0.04" textLength="44.9" lengthAdjust="spacingAndGlyphs">CPV-2b/Taiwan/KP715862/2003</text>
<text transform="translate(438.41 92.91) rotate(-58.53)" dy="1.2" font-family="Liberation Sans, sans-serif" font-size="3.3" fill="#151515" stroke="#151515" stroke-width="0.04" textLength="44.9" lengthAdjust="spacingAndGlyphs">CPV-2b/Taiwan/KP715863/2003</text>
<text transform="translate(443.70 96.36) rotate(-53.57)" dy="1.2" font-family="Liberation Sans, sans-serif" font-size="3.3" fill="#151515" stroke="#151515" stroke-width="0.04" textLength="44.9" lengthAdjust="spacingAndGlyphs">CPV-2b/Taiwan/KP715864/2003</text>
<text transform="translate(448.67 100.24) rotate(-48.63)" dy="1.2" font-family="Liberation Sans, sans-serif" font-size="3.3" fill="#151515" stroke="#151515" stroke-width="0.04" textLength="44.9" lengthAdjust="spacingAndGlyphs">CPV-2b/Taiwan/KP715865/2003</text>
<text transform="translate(453.28 104.53) rotate(-43.69)" dy="1.2" font-family="Liberation Sans, sans-serif" font-size="3.3" fill="#151515" stroke="#151515" stroke-width="0.04" textLength="44.9" lengthAdjust="spacingAndGlyphs">CPV-2b/Taiwan/KP715866/2003</text>
<text transform="translate(457.50 109.20) rotate(-38.77)" dy="1.2" font-family="Liberation Sans, sans-serif" font-size="3.3" fill="#151515" stroke="#151515" stroke-width="0.04" textLength="44.9" lengthAdjust="spacingAndGlyphs">CPV-2b/Taiwan/KP715867/2003</text>
<text transform="translate(461.29 114.20) rotate(-33.87)" dy="1.2" font-family="Liberation Sans, sans-serif" font-size="3.3" fill="#151515" stroke="#151515" stroke-width="0.04" textLength="44.9" lengthAdjust="spacingAndGlyphs">CPV-2b/Taiwan/KP715868/2003</text>
<text transform="translate(464.64 119.51) rotate(-28.97)" dy="1.2" font-family="Liberation Sans, sans-serif" font-size="3.3" fill="#151515" stroke="#151515" stroke-width="0.04" textLength="44.9" lengthAdjust="spacingAndGlyphs">CPV-2b/Taiwan/KP715869/2003</text>
<text transform="translate(467.51 125.07) rotate(-24.09)" dy="1.2" font-family="Liberation Sans, sans-serif" font-size="3.3" fill="#151515" stroke="#151515" stroke-width="0.04" textLength="44.9" lengthAdjust="spacingAndGlyphs">CPV-2b/Taiwan/KP715870/2003</text>
<text transform="translate(469.88 130.87) rotate(-19.22)" dy="1.2" font-family="Liberation Sans, sans-serif" font-size="3.3" fill="#8C8C8C" textLength="45.1" lengthAdjust="spacingAndGlyphs">CPV-2b/Taiwan/KJ946285/2008</text>
</svg>
</body></html>
